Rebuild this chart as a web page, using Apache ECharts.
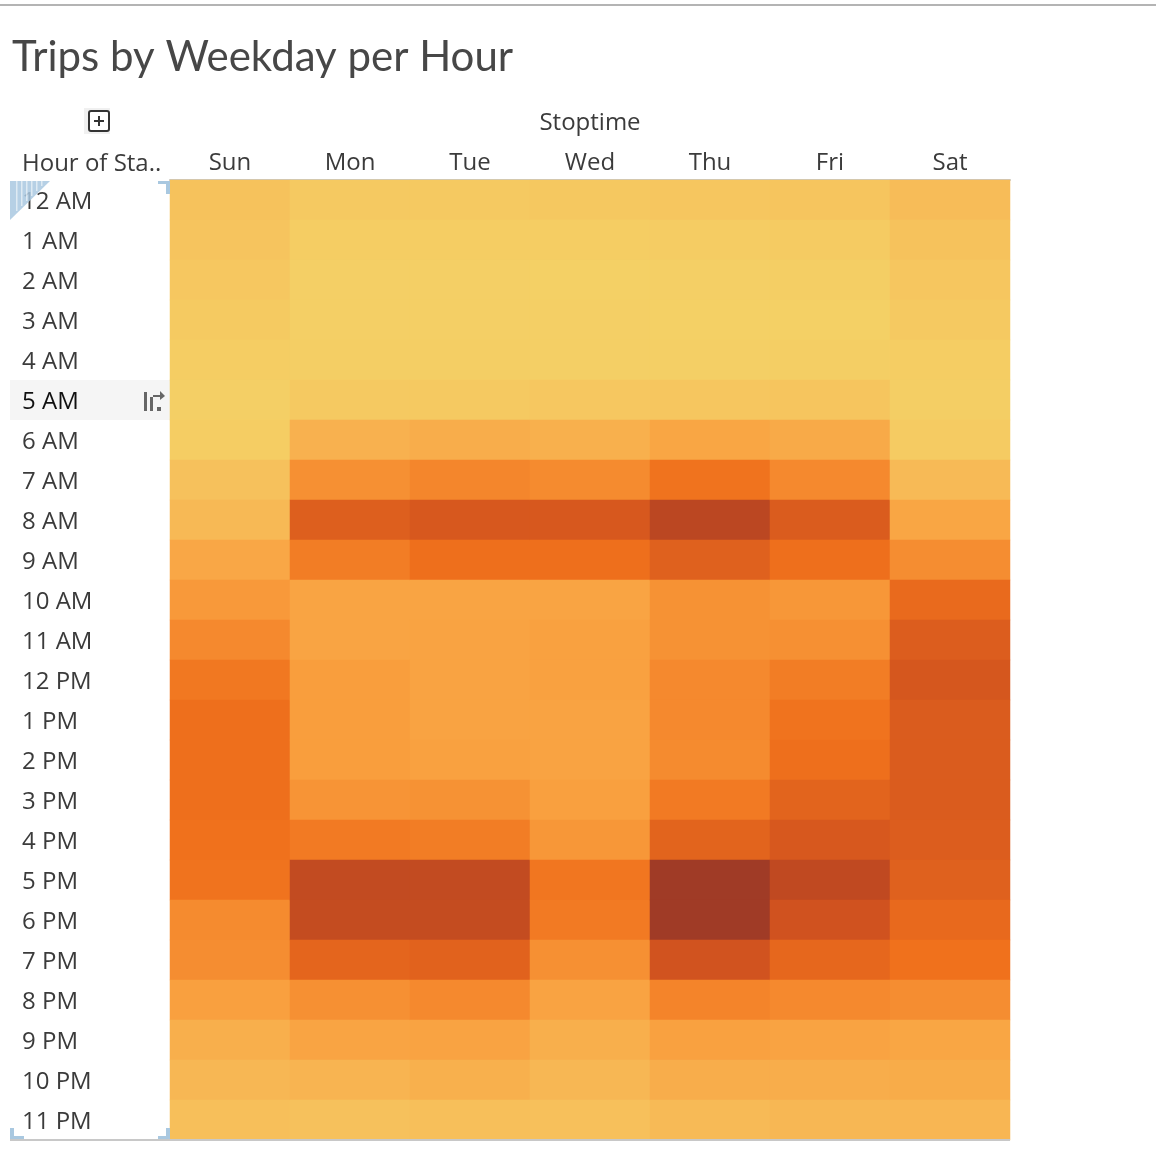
<!DOCTYPE html>
<html>
<head>
<meta charset="utf-8">
<title>Trips by Weekday per Hour</title>
<script src="https://cdn.jsdelivr.net/npm/echarts@6/dist/echarts.min.js"></script>
<style>
  html, body { margin: 0; padding: 0; background: #fff; }
  #chart { width: 1156px; height: 1158px; }
</style>
</head>
<body>
<div id="chart"></div>
<script>
const days = ['Sun', 'Mon', 'Tue', 'Wed', 'Thu', 'Fri', 'Sat'];
const hours = ['12 AM', '1 AM', '2 AM', '3 AM', '4 AM', '5 AM', '6 AM', '7 AM', '8 AM', '9 AM', '10 AM', '11 AM',
  '12 PM', '1 PM', '2 PM', '3 PM', '4 PM', '5 PM', '6 PM', '7 PM', '8 PM', '9 PM', '10 PM', '11 PM'];

// one list per weekday, top row (12 AM) first, relative trip level
const sun = [15, 13, 10, 7, 4, 2, 4, 16, 23, 35, 43, 50, 57, 61, 61, 61, 60, 59, 49, 48, 40, 30, 24, 18];
const mon = [8, 4, 2, 2, 3, 8, 28, 47, 71, 55, 37, 37, 41, 41, 41, 45, 56, 85, 84, 67, 47, 37, 26, 16];
const tue = [8, 4, 2, 2, 3, 8, 31, 51, 75, 61, 37, 38, 38, 38, 39, 46, 55, 85, 84, 69, 50, 38, 29, 18];
const wed = [9, 4, 1, 2, 2, 10, 29, 49, 75, 61, 37, 39, 39, 38, 38, 40, 44, 58, 56, 47, 38, 30, 24, 17];
const thu = [11, 5, 2, 1, 2, 11, 36, 59, 88, 70, 46, 46, 50, 50, 49, 56, 68, 99, 99, 78, 52, 39, 31, 22];
const fri = [12, 6, 3, 1, 3, 12, 33, 50, 73, 61, 44, 47, 55, 59, 61, 68, 75, 86, 79, 66, 50, 38, 31, 24];
const sat = [21, 15, 11, 8, 4, 3, 6, 22, 36, 48, 64, 72, 76, 73, 73, 73, 72, 70, 65, 60, 48, 36, 32, 25];
const byDay = [sun, mon, tue, wed, thu, fri, sat];

const cells = [];
byDay.forEach((vals, d) => vals.forEach((v, h) => cells.push([d, h, v])));

const textColor = '#3b3b3b';
const cornerBlue = '#a9c8e0';

// white hatching on the pane corner
const hatch = [16, 21, 26, 31, 36, 41].map((x) => ({
  type: 'rect',
  z: 9,
  shape: { x: x, y: 181, width: 1.5, height: Math.max(4, 30 - (x - 16)) },
  style: { fill: '#fff', opacity: 0.55 }
}));

const chart = echarts.init(document.getElementById('chart'));

chart.setOption({
  animation: false,
  backgroundColor: '#fff',
  title: {
    text: 'Trips by Weekday per Hour',
    left: 7,
    top: 31,
    textStyle: { fontFamily: 'Lato', fontWeight: 400, fontSize: 42, color: '#474747' }
  },
  tooltip: { position: 'top' },
  grid: { left: 170, top: 180, width: 840, height: 960 },
  xAxis: {
    type: 'category',
    position: 'top',
    data: days,
    name: 'Stoptime',
    nameLocation: 'middle',
    nameGap: 45,
    nameTextStyle: { fontFamily: 'Open Sans', fontSize: 24, color: textColor },
    axisTick: { show: false },
    axisLine: { show: true, lineStyle: { color: '#c8c8c8', width: 2 } },
    axisLabel: { fontFamily: 'Open Sans', fontSize: 24, color: textColor, margin: 5 },
    splitLine: { show: false }
  },
  yAxis: {
    type: 'category',
    inverse: true,
    data: hours,
    axisTick: { show: false },
    axisLine: { show: false },
    axisLabel: {
      fontFamily: 'Open Sans',
      fontSize: 24,
      align: 'left',
      margin: 148,
      verticalAlign: 'top',
      lineHeight: 5,
      color: (v) => (v === '5 AM' ? '#111' : textColor)
    },
    splitLine: { show: false }
  },
  visualMap: {
    show: false,
    type: 'continuous',
    min: 0,
    max: 100,
    dimension: 2,
    inRange: { color: ['#F4D166', '#F7BD59', '#F9A03F', '#F0711C', '#CE501F', '#9E3A26'] }
  },
  series: [{
    name: 'Trips',
    type: 'heatmap',
    data: cells,
    itemStyle: { borderWidth: 0 },
    emphasis: { disabled: true }
  }],
  graphic: [
    // row header title
    {
      type: 'text',
      z: 5,
      style: { x: 22, y: 164, text: 'Hour of Sta..', verticalAlign: 'middle', fill: textColor, font: '24px "Open Sans"' }
    },
    // top edge of the page
    { type: 'rect', z: 5, shape: { x: 0, y: 4, width: 1156, height: 2 }, style: { fill: '#b4b4b4' } },
    // hovered row
    { type: 'rect', z: -1, shape: { x: 10, y: 380, width: 160, height: 40 }, style: { fill: '#f5f5f5' } },
    { type: 'rect', z: 5, shape: { x: 144, y: 392, width: 3, height: 19 }, style: { fill: '#666' } },
    { type: 'rect', z: 5, shape: { x: 150, y: 397, width: 3, height: 14 }, style: { fill: '#666' } },
    { type: 'rect', z: 5, shape: { x: 157, y: 407, width: 4, height: 4 }, style: { fill: '#666' } },
    { type: 'polyline', z: 5, shape: { points: [[153, 396], [163, 396]] }, style: { stroke: '#666', lineWidth: 2, fill: null } },
    { type: 'polygon', z: 5, shape: { points: [[160, 391], [165, 396], [160, 400]] }, style: { fill: '#666' } },
    // expand button
    { type: 'rect', z: 5, shape: { x: 84, y: 108, width: 26, height: 26 }, style: { fill: '#f0f0f0' } },
    { type: 'rect', z: 6, shape: { x: 89, y: 111, width: 20, height: 20, r: 2 }, style: { fill: '#fff', stroke: '#333', lineWidth: 2 } },
    { type: 'polyline', z: 7, shape: { points: [[94, 121], [104, 121]] }, style: { stroke: '#333', lineWidth: 2, fill: null } },
    { type: 'polyline', z: 7, shape: { points: [[99, 116], [99, 126]] }, style: { stroke: '#333', lineWidth: 2, fill: null } },
    // selection corners of the row header pane
    { type: 'polygon', z: 8, shape: { points: [[10, 181], [50, 181], [10, 220]] }, style: { fill: cornerBlue, opacity: 0.85 } },
    ...hatch,
    { type: 'rect', z: 8, shape: { x: 158, y: 181, width: 12, height: 3 }, style: { fill: cornerBlue } },
    { type: 'rect', z: 8, shape: { x: 166, y: 181, width: 4, height: 13 }, style: { fill: cornerBlue } },
    { type: 'rect', z: 8, shape: { x: 10, y: 1128, width: 4, height: 11 }, style: { fill: cornerBlue } },
    { type: 'rect', z: 8, shape: { x: 10, y: 1136, width: 14, height: 3 }, style: { fill: cornerBlue } },
    { type: 'rect', z: 8, shape: { x: 158, y: 1136, width: 12, height: 3 }, style: { fill: cornerBlue } },
    { type: 'rect', z: 8, shape: { x: 166, y: 1128, width: 4, height: 11 }, style: { fill: cornerBlue } },
    // bottom edge
    { type: 'rect', z: 8, shape: { x: 10, y: 1139, width: 1000, height: 2 }, style: { fill: '#c8c8c8' } }
  ]
});
</script>
</body>
</html>
